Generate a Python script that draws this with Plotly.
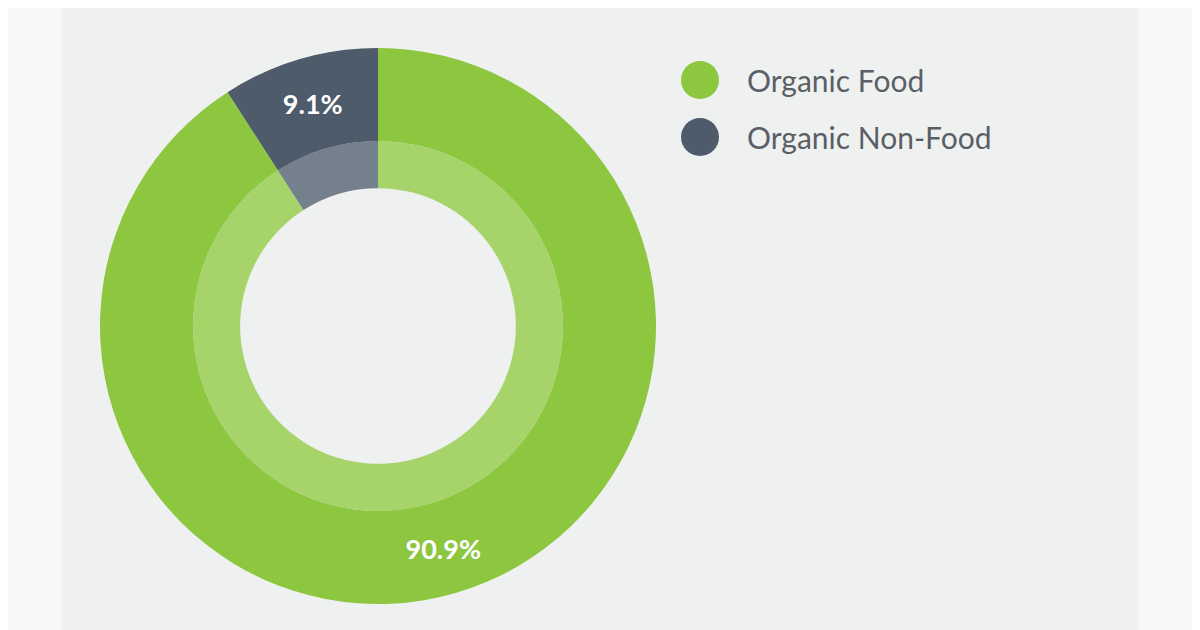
import plotly.graph_objects as go

labels = ["Organic Food", "Organic Non-Food"]
values = [90.9, 9.1]
colors = ["#8dc63f", "#4e5b6b"]
inner_colors = ["#a6d46b", "#75808d"]

W, H = 1200, 630
dx, dy = -8, -8  # compensate page offset


def px_x(a, b):
    return [(a + dx) / W, (b + dx) / W]


def px_y(top, bottom):
    return [1 - (bottom + dy) / H, 1 - (top + dy) / H]


fig = go.Figure()

# outer ring with labels
fig.add_trace(go.Pie(
    labels=labels, values=values, sort=False, direction="clockwise", rotation=0,
    hole=0.665, marker=dict(colors=colors, line=dict(width=0)),
    texttemplate="<b>%{value:.1f}%</b>", textposition="inside", insidetextorientation="horizontal",
    textfont=dict(size=27, color="white", family="Lato"),
    domain=dict(x=px_x(100, 656), y=px_y(48, 604)),
    showlegend=False, hoverinfo="label+value",
))

# lighter inner ring
fig.add_trace(go.Pie(
    labels=labels, values=values, sort=False, direction="clockwise", rotation=0,
    hole=0.745, marker=dict(colors=inner_colors, line=dict(width=0)),
    textinfo="none",
    domain=dict(x=px_x(193, 563), y=px_y(141, 511)),
    showlegend=False, hoverinfo="skip",
))

# panel background
fig.add_shape(type="rect", xref="paper", yref="paper", x0=(62 + dx) / W, x1=(1138 + dx) / W,
              y0=-0.05, y1=1.05, fillcolor="#eef1f0", line=dict(width=0), layer="below")

# legend with round markers
for i, (lab, col) in enumerate(zip(labels, colors)):
    yc = 1 - (80 + dy + i * 57) / H
    fig.add_shape(type="circle", xref="paper", yref="paper",
                  x0=(681 + dx) / W, x1=(719 + dx) / W, y0=yc - 19 / H, y1=yc + 19 / H,
                  fillcolor=col, line=dict(width=0))
    fig.add_annotation(x=(745 + dx) / W, y=yc, xref="paper", yref="paper", text=lab,
                       showarrow=False, xanchor="left", yanchor="middle",
                       font=dict(size=30, color="#5a5f66", family="Lato"))

fig.update_layout(
    width=W, height=H, margin=dict(l=0, r=0, t=0, b=0),
    paper_bgcolor="#f7f8f8", plot_bgcolor="#f7f8f8",
)

fig.write_html("out.html")
